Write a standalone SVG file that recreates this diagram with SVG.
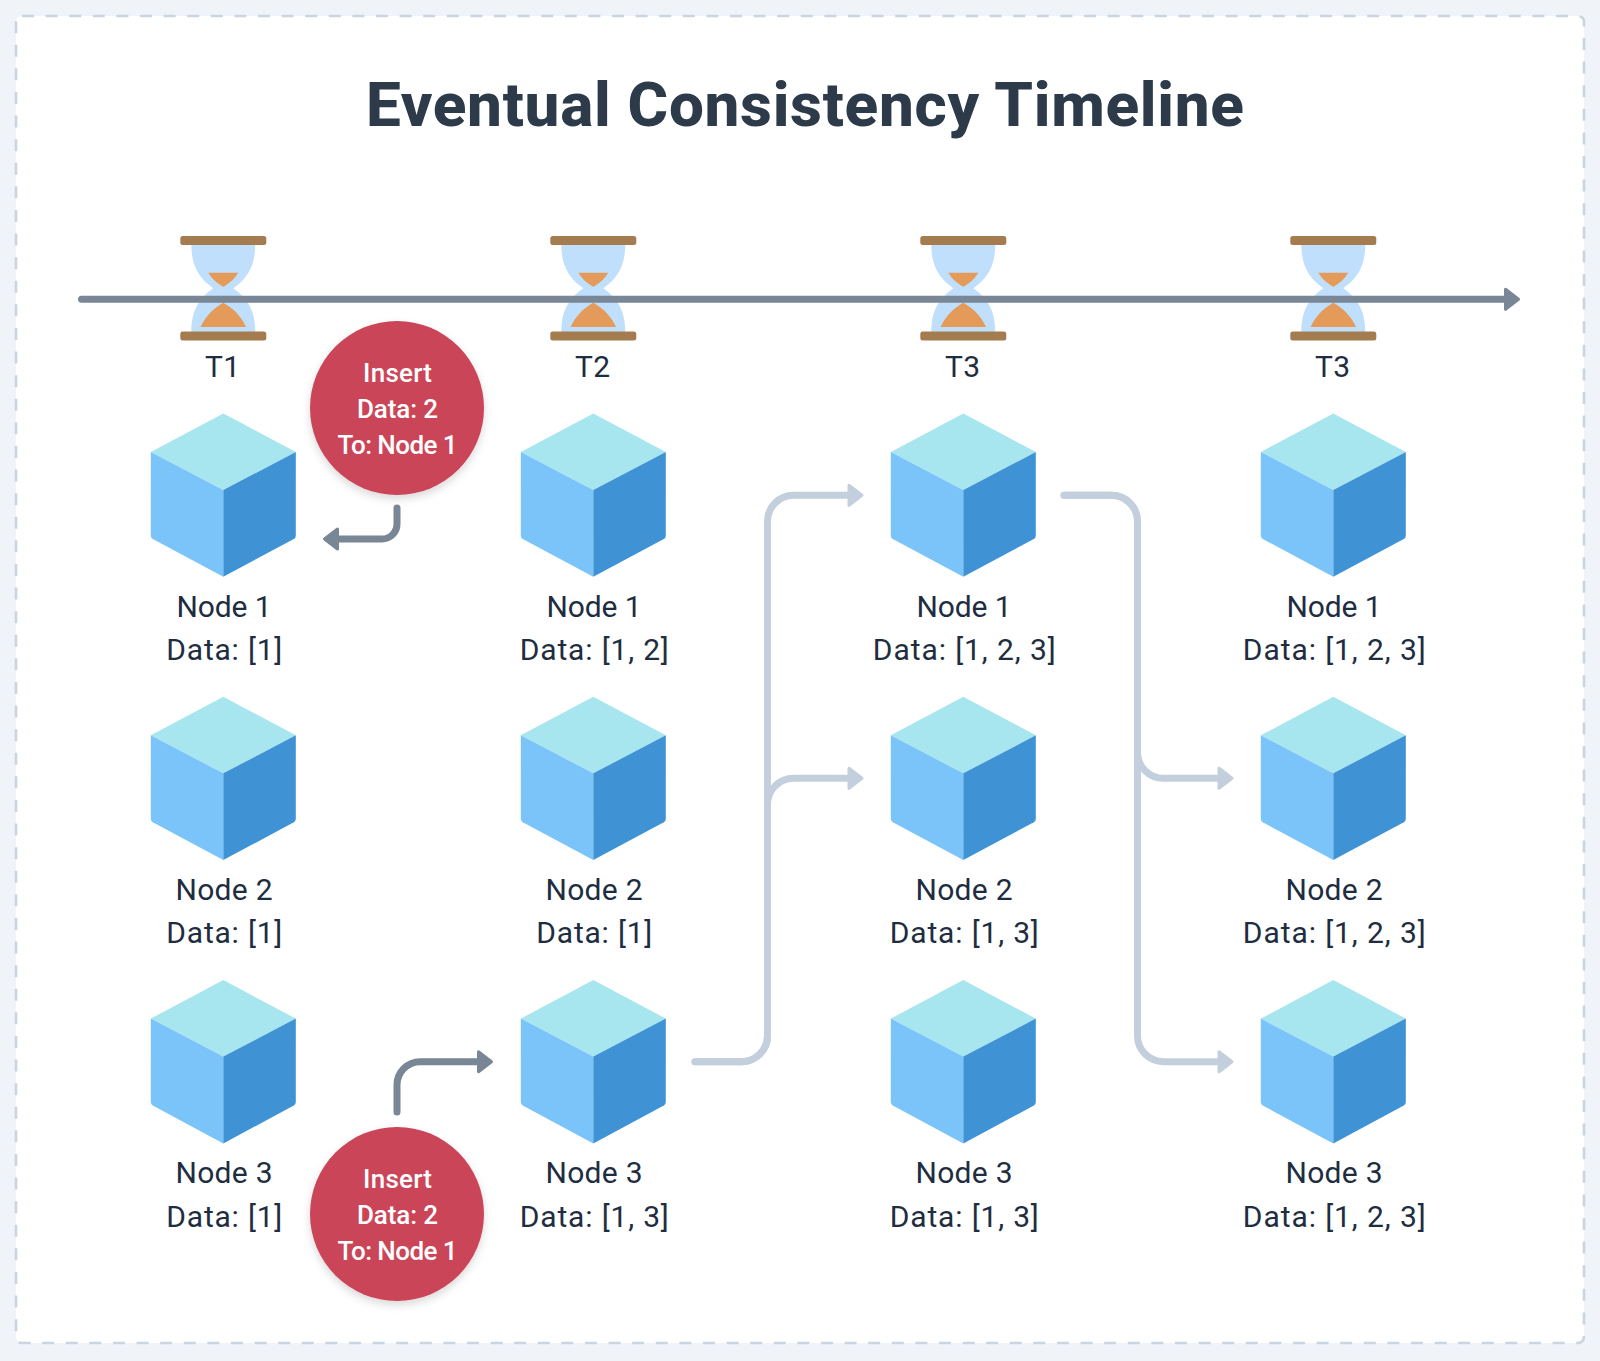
<svg xmlns="http://www.w3.org/2000/svg" width="1600" height="1361" viewBox="0 0 1600 1361">
<style>
text{font-family:Roboto,"Liberation Sans",sans-serif;text-anchor:middle}
.title{font-size:62px;font-weight:800;fill:#2C3A4A}
.lbl{font-size:30px;fill:#1E2D3F}
.ins{font-size:26px;fill:#fff;font-weight:500}
.conn{fill:none;stroke-width:7;stroke-linecap:round}
.light{stroke:#C3CFDC;marker-end:url(#al)}
.dark{stroke:#788696;marker-end:url(#ad)}
.cir{fill:#CB4458;filter:url(#sh)}
</style>
<defs>
<filter id="sh" x="-20%" y="-20%" width="140%" height="140%"><feDropShadow dx="0" dy="4" stdDeviation="4" flood-color="#000" flood-opacity=".15"/></filter>
<marker id="al" markerUnits="userSpaceOnUse" markerWidth="24" markerHeight="32" refX="2" refY="14" orient="auto" overflow="visible"><path d="M3 4L16 14L3 24Z" fill="#C3CFDC" stroke="#C3CFDC" stroke-width="3" stroke-linejoin="round"/></marker>
<marker id="ad" markerUnits="userSpaceOnUse" markerWidth="24" markerHeight="32" refX="2" refY="14" orient="auto" overflow="visible"><path d="M3 4L16 14L3 24Z" fill="#788696" stroke="#788696" stroke-width="3" stroke-linejoin="round"/></marker>
<g id="cube">
<path d="M0 0L72.5 38.5L0 76.5L-72.5 38.5Z" fill="#A8E6EF"/>
<path d="M-72.5 38.5L0 76.5V163.3L-70.5 125.5Q-72.5 124.3-72.5 122Z" fill="#7AC4F9"/>
<path d="M72.5 38.5L0 76.5V163.3L70.5 125.5Q72.5 124.3 72.5 122Z" fill="#3F93D5"/>
</g>
<g id="hg">
<path d="M-32-44H32C32-22 24-10 10 0C24 10 32 22 32 44H-32C-32 22-24 10-10 0C-24-10-32-22-32-44Z" fill="#BFDFFD"/>
<path d="M-15-15.6H15C11-9 6-5 0-1.6C-6-5-11-9-15-15.6Z" fill="#E49A58"/>
<path d="M0 14.4C-10 20-18 28-22.7 38.7H22.7C18 28 10 20 0 14.4Z" fill="#E49A58"/>
<rect x="-43" y="-52.3" width="86" height="9" rx="2.5" fill="#A57C50"/>
<rect x="-43" y="43.3" width="86" height="9" rx="2.5" fill="#A57C50"/>
</g>
</defs>
<rect width="1600" height="1361" fill="#F0F4F8"/>
<rect id="frame" x="16" y="16" width="1568" height="1327" rx="6" fill="#fff" stroke="#CBD5E0" stroke-width="2.7" stroke-dasharray="12 11.6"/>
<text class="title" x="805" y="126" textLength="878">Eventual Consistency Timeline</text>
<g id="hourglass-1"><use href="#hg" x="223.3" y="288.3"/><text class="lbl" x="222.5" y="377" textLength="35">T1</text></g>
<g id="hourglass-2"><use href="#hg" x="593.3" y="288.3"/><text class="lbl" x="592.5" y="377" textLength="35">T2</text></g>
<g id="hourglass-3"><use href="#hg" x="963.3" y="288.3"/><text class="lbl" x="962.5" y="377" textLength="35">T3</text></g>
<g id="hourglass-4"><use href="#hg" x="1333.3" y="288.3"/><text class="lbl" x="1332.5" y="377" textLength="35">T3</text></g>
<g id="connectors">
<path class="conn dark" d="M81.5 299.3H1504.5"/>
<path class="conn dark" d="M397 508V524A15 15 0 0 1 382 539H338.5"/>
<path class="conn dark" d="M397 1112V1085A23.3 23.3 0 0 1 420.3 1061.7H477.5"/>
<path class="conn light" d="M695 1061.7H741A26 26 0 0 0 767.5 1035.7V521.3A26 26 0 0 1 793.5 495.3H848"/>
<path class="conn light" d="M695 1061.7H741A26 26 0 0 0 767.5 1035.7V804.3A26 26 0 0 1 793.5 778.3H848"/>
<path class="conn light" d="M1064 495.3H1111.5A26 26 0 0 1 1137.5 521.3V752.3A26 26 0 0 0 1163.5 778.3H1218"/>
<path class="conn light" d="M1064 495.3H1111.5A26 26 0 0 1 1137.5 521.3V1035.7A26 26 0 0 0 1163.5 1061.7H1218"/>
</g>
<g id="t1-node1"><use href="#cube" x="223.3" y="413.5"/><text class="lbl" x="224" y="616.5" textLength="95">Node 1</text><text class="lbl" x="224.3" y="660" textLength="116">Data: [1]</text></g>
<g id="t1-node2"><use href="#cube" x="223.3" y="696.8"/><text class="lbl" x="224" y="899.8" textLength="97">Node 2</text><text class="lbl" x="224.3" y="943.3" textLength="116">Data: [1]</text></g>
<g id="t1-node3"><use href="#cube" x="223.3" y="980.1"/><text class="lbl" x="224" y="1183.1" textLength="97">Node 3</text><text class="lbl" x="224.3" y="1226.6" textLength="116">Data: [1]</text></g>
<g id="t2-node1"><use href="#cube" x="593.3" y="413.5"/><text class="lbl" x="594" y="616.5" textLength="95">Node 1</text><text class="lbl" x="594.3" y="660" textLength="149">Data: [1, 2]</text></g>
<g id="t2-node2"><use href="#cube" x="593.3" y="696.8"/><text class="lbl" x="594" y="899.8" textLength="97">Node 2</text><text class="lbl" x="594.3" y="943.3" textLength="116">Data: [1]</text></g>
<g id="t2-node3"><use href="#cube" x="593.3" y="980.1"/><text class="lbl" x="594" y="1183.1" textLength="97">Node 3</text><text class="lbl" x="594.3" y="1226.6" textLength="149">Data: [1, 3]</text></g>
<g id="t3-node1"><use href="#cube" x="963.3" y="413.5"/><text class="lbl" x="964" y="616.5" textLength="95">Node 1</text><text class="lbl" x="964.3" y="660" textLength="183">Data: [1, 2, 3]</text></g>
<g id="t3-node2"><use href="#cube" x="963.3" y="696.8"/><text class="lbl" x="964" y="899.8" textLength="97">Node 2</text><text class="lbl" x="964.3" y="943.3" textLength="149">Data: [1, 3]</text></g>
<g id="t3-node3"><use href="#cube" x="963.3" y="980.1"/><text class="lbl" x="964" y="1183.1" textLength="97">Node 3</text><text class="lbl" x="964.3" y="1226.6" textLength="149">Data: [1, 3]</text></g>
<g id="t4-node1"><use href="#cube" x="1333.3" y="413.5"/><text class="lbl" x="1334" y="616.5" textLength="95">Node 1</text><text class="lbl" x="1334.3" y="660" textLength="183">Data: [1, 2, 3]</text></g>
<g id="t4-node2"><use href="#cube" x="1333.3" y="696.8"/><text class="lbl" x="1334" y="899.8" textLength="97">Node 2</text><text class="lbl" x="1334.3" y="943.3" textLength="183">Data: [1, 2, 3]</text></g>
<g id="t4-node3"><use href="#cube" x="1333.3" y="980.1"/><text class="lbl" x="1334" y="1183.1" textLength="97">Node 3</text><text class="lbl" x="1334.3" y="1226.6" textLength="183">Data: [1, 2, 3]</text></g>
<g id="insert-1"><circle class="cir" cx="397" cy="408" r="87"/><text class="ins" x="397.5" y="382" textLength="69">Insert</text><text class="ins" x="397.5" y="418" textLength="81">Data: 2</text><text class="ins" x="397.5" y="454.3" textLength="120">To: Node 1</text></g>
<g id="insert-2"><circle class="cir" cx="397" cy="1214" r="87"/><text class="ins" x="397.5" y="1187.7" textLength="69">Insert</text><text class="ins" x="397.5" y="1224" textLength="81">Data: 2</text><text class="ins" x="397.5" y="1260" textLength="120">To: Node 1</text></g>
</svg>
